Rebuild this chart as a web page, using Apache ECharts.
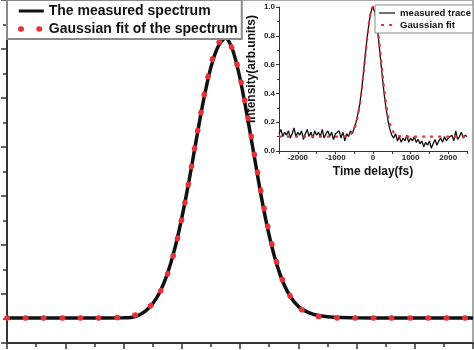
<!DOCTYPE html>
<html><head><meta charset="utf-8">
<script src="https://cdn.jsdelivr.net/npm/echarts@6/dist/echarts.min.js"></script>
<style>html,body{margin:0;padding:0;background:#fff}#c{width:474px;height:350px}</style>
</head><body><div id="c"></div>
<script>
// Main spectrum (arbitrary units, axes unlabeled in the reference)
const specX = [0,1,2,3,4,4.25,4.5,4.75,5,5.25,5.5,5.75,6,6.25,6.5,6.75,7,7.25,7.5,7.75,8,8.25,8.5,8.75,9,9.25,9.5,9.75,10,10.25,10.5,10.75,11,11.5,12,13,14,15,16];
const measuredSpectrum = [1.02,1.02,1.02,1.02,1.03,1.04,1.12,1.30,1.60,2.08,2.80,3.80,5.10,6.62,8.30,9.92,11.25,12.10,12.45,11.95,10.80,9.25,7.55,5.85,4.40,3.25,2.42,1.86,1.50,1.30,1.18,1.11,1.07,1.04,1.03,1.02,1.02,1.02,1.02];
const fitSpectrum = [1.02,1.02,1.02,1.02,1.05,1.09,1.18,1.33,1.61,2.07,2.77,3.76,5.07,6.63,8.34,9.99,11.36,12.22,12.44,11.95,10.86,9.35,7.65,5.98,4.51,3.33,2.45,1.86,1.48,1.26,1.14,1.07,1.04,1.02,1.02,1.02,1.02,1.02,1.02];

// Inset: autocorrelation trace
const traceTime = [-2500,-2450,-2400,-2350,-2300,-2250,-2200,-2150,-2100,-2050,-2000,-1950,-1900,-1850,-1800,-1750,-1700,-1650,-1600,-1550,-1500,-1450,-1400,-1350,-1300,-1250,-1200,-1150,-1100,-1050,-1000,-950,-900,-850,-800,-750,-700,-650,-600,-550,-500,-450,-400,-350,-300,-250,-200,-150,-100,-50,0,50,100,150,200,250,300,350,400,450,500,550,600,650,700,750,800,850,900,950,1000,1050,1100,1150,1200,1250,1300,1350,1400,1450,1500,1550,1600,1650,1700,1750,1800,1850,1900,1950,2000,2050,2100,2150,2200,2250,2300,2350,2400,2450,2500];
const measuredTrace = [0.12,0.15,0.10,0.13,0.11,0.14,0.09,0.12,0.16,0.10,0.13,0.11,0.14,0.08,0.12,0.15,0.10,0.13,0.09,0.14,0.11,0.13,0.10,0.15,0.09,0.12,0.14,0.10,0.13,0.08,0.12,0.11,0.14,0.09,0.13,0.07,0.12,0.10,0.14,0.12,0.16,0.20,0.26,0.33,0.43,0.55,0.68,0.80,0.90,0.97,1.00,0.96,0.89,0.77,0.64,0.51,0.39,0.29,0.21,0.15,0.11,0.09,0.12,0.07,0.10,0.06,0.09,0.07,0.11,0.06,0.09,0.07,0.10,0.06,0.08,0.05,0.07,0.03,0.06,0.04,0.07,0.02,0.05,0.08,0.04,0.07,0.09,0.06,0.10,0.07,0.09,0.08,0.11,0.07,0.14,0.08,0.10,0.13,0.09,0.11,0.10];
const fitTime = [-2500,-2000,-1500,-1000,-800,-750,-700,-650,-600,-550,-500,-450,-400,-350,-300,-250,-200,-150,-100,-50,0,50,100,150,200,250,300,350,400,450,500,550,600,650,700,750,800,1000,1500,2000,2500];
const fitTrace = [0.10,0.10,0.10,0.10,0.10,0.101,0.104,0.107,0.115,0.129,0.153,0.191,0.247,0.324,0.424,0.543,0.672,0.797,0.904,0.975,1.0,0.975,0.904,0.797,0.672,0.543,0.424,0.324,0.247,0.191,0.153,0.129,0.115,0.107,0.104,0.101,0.10,0.10,0.10,0.10,0.10];
const insetXLabels = [-2000,-1000,0,1000,2000];
const insetXTicks = [-2500,-2000,-1500,-1000,-500,0,500,1000,1500,2000,2500];

const FONT = '"Liberation Sans", Arial, Helvetica, sans-serif';
const RED = '#e3323a';
const zip = (a,b) => a.map((v,i)=>[v,b[i]]);

const chart = echarts.init(document.getElementById('c'), null, {renderer:'canvas'});
chart.setOption({
  animation: false,
  backgroundColor: '#fff',
  grid: [
    {left:7, top:0, right:1, bottom:7, show:true, borderColor:'#a8a8a8', borderWidth:2, backgroundColor:'transparent'},
    {left:279, top:7, width:188, height:144}
  ],
  xAxis: [
    {gridIndex:0, type:'value', min:0, max:16, interval:2,
     axisLine:{lineStyle:{color:'#333', width:2}},
     axisTick:{inside:false, length:6, lineStyle:{color:'#333', width:1.5}},
     minorTick:{show:true, splitNumber:2, length:4, lineStyle:{color:'#333', width:1.5}},
     axisLabel:{show:false}, splitLine:{show:false}},
    {gridIndex:1, type:'value', min:-2500, max:2500,
     name:'Time delay(fs)', nameLocation:'middle', nameGap:15,
     nameTextStyle:{fontFamily:FONT, fontWeight:'bold', fontSize:12, color:'#111'},
     axisLine:{onZero:false, lineStyle:{color:'#333', width:1}},
     axisTick:{customValues:insetXTicks, length:3, lineStyle:{color:'#333'}},
     axisLabel:{customValues:insetXLabels, margin:3, fontFamily:FONT, fontWeight:'bold', fontSize:8, color:'#222', formatter:v=>String(v)},
     splitLine:{show:false}}
  ],
  yAxis: [
    {gridIndex:0, type:'value', min:0, max:14, interval:2,
     axisLine:{lineStyle:{color:'#333', width:2}},
     axisTick:{inside:false, length:6, lineStyle:{color:'#333', width:1.5}},
     minorTick:{show:true, splitNumber:2, length:4, lineStyle:{color:'#333', width:1.5}},
     axisLabel:{show:false}, splitLine:{show:false}},
    {gridIndex:1, type:'value', min:0, max:1, interval:0.2,
     name:'Intensity(arb.units)', nameLocation:'middle', nameGap:21,
     nameTextStyle:{fontFamily:FONT, fontWeight:'bold', fontSize:12, color:'#111', padding:[0,0,0,20]},
     axisLine:{onZero:false, lineStyle:{color:'#333', width:1}},
     axisTick:{length:3, lineStyle:{color:'#333'}},
     minorTick:{show:true, splitNumber:2, length:2, lineStyle:{color:'#333'}},
     axisLabel:{margin:4, fontFamily:FONT, fontWeight:'bold', fontSize:8, color:'#222', formatter:v=>v.toFixed(1)},
     splitLine:{show:false}}
  ],
  legend: [
    {data:[
       {name:'The measured spectrum', lineStyle:{color:'#111', width:3}},
       {name:'Gaussian fit of the spectrum', lineStyle:{color:RED, width:5.5, type:[0.5,17.8], cap:'round', dashOffset:-2}}
     ], orient:'vertical', left:7, top:0,
     itemWidth:25, itemHeight:14, itemGap:4, padding:[4,4,3,9],
     itemStyle:{opacity:0},
     backgroundColor:'#fff', borderColor:'#8a8a8a', borderWidth:2,
     textStyle:{fontFamily:FONT, fontWeight:'bold', fontSize:14, color:'#111'}},
    {data:[
       {name:'measured trace', lineStyle:{color:'#111', width:1.2}},
       {name:'Gaussian fit', lineStyle:{color:RED, width:2.2, type:[3,5]}}
     ], orient:'vertical', right:1, top:5,
     itemWidth:16, itemHeight:10, itemGap:2, padding:[3,2,3,3],
     itemStyle:{opacity:0},
     backgroundColor:'#fff', borderColor:'#8a8a8a', borderWidth:1,
     textStyle:{fontFamily:FONT, fontWeight:'bold', fontSize:9.6, color:'#111'}}
  ],
  series: [
    {name:'The measured spectrum', type:'line', xAxisIndex:0, yAxisIndex:0,
     data:zip(specX, measuredSpectrum), smooth:0.3, showSymbol:false, symbol:'none',
     lineStyle:{color:'#111', width:3.5}, itemStyle:{color:'#111'}},
    {name:'Gaussian fit of the spectrum', type:'line', xAxisIndex:0, yAxisIndex:0,
     data:zip(specX, fitSpectrum), smooth:0.3, showSymbol:false, symbol:'none',
     lineStyle:{color:RED, width:5.5, type:[0.5,17.8], cap:'round'}, itemStyle:{color:RED}},
    {name:'measured trace', type:'line', xAxisIndex:1, yAxisIndex:1,
     data:zip(traceTime, measuredTrace), showSymbol:false, symbol:'none',
     lineStyle:{color:'#111', width:1.3}, itemStyle:{color:'#111'}},
    {name:'Gaussian fit', type:'line', xAxisIndex:1, yAxisIndex:1,
     data:zip(fitTime, fitTrace), smooth:0.3, showSymbol:false, symbol:'none',
     lineStyle:{color:RED, width:2.2, type:[3,5]}, itemStyle:{color:RED}}
  ]
});
</script></body></html>
